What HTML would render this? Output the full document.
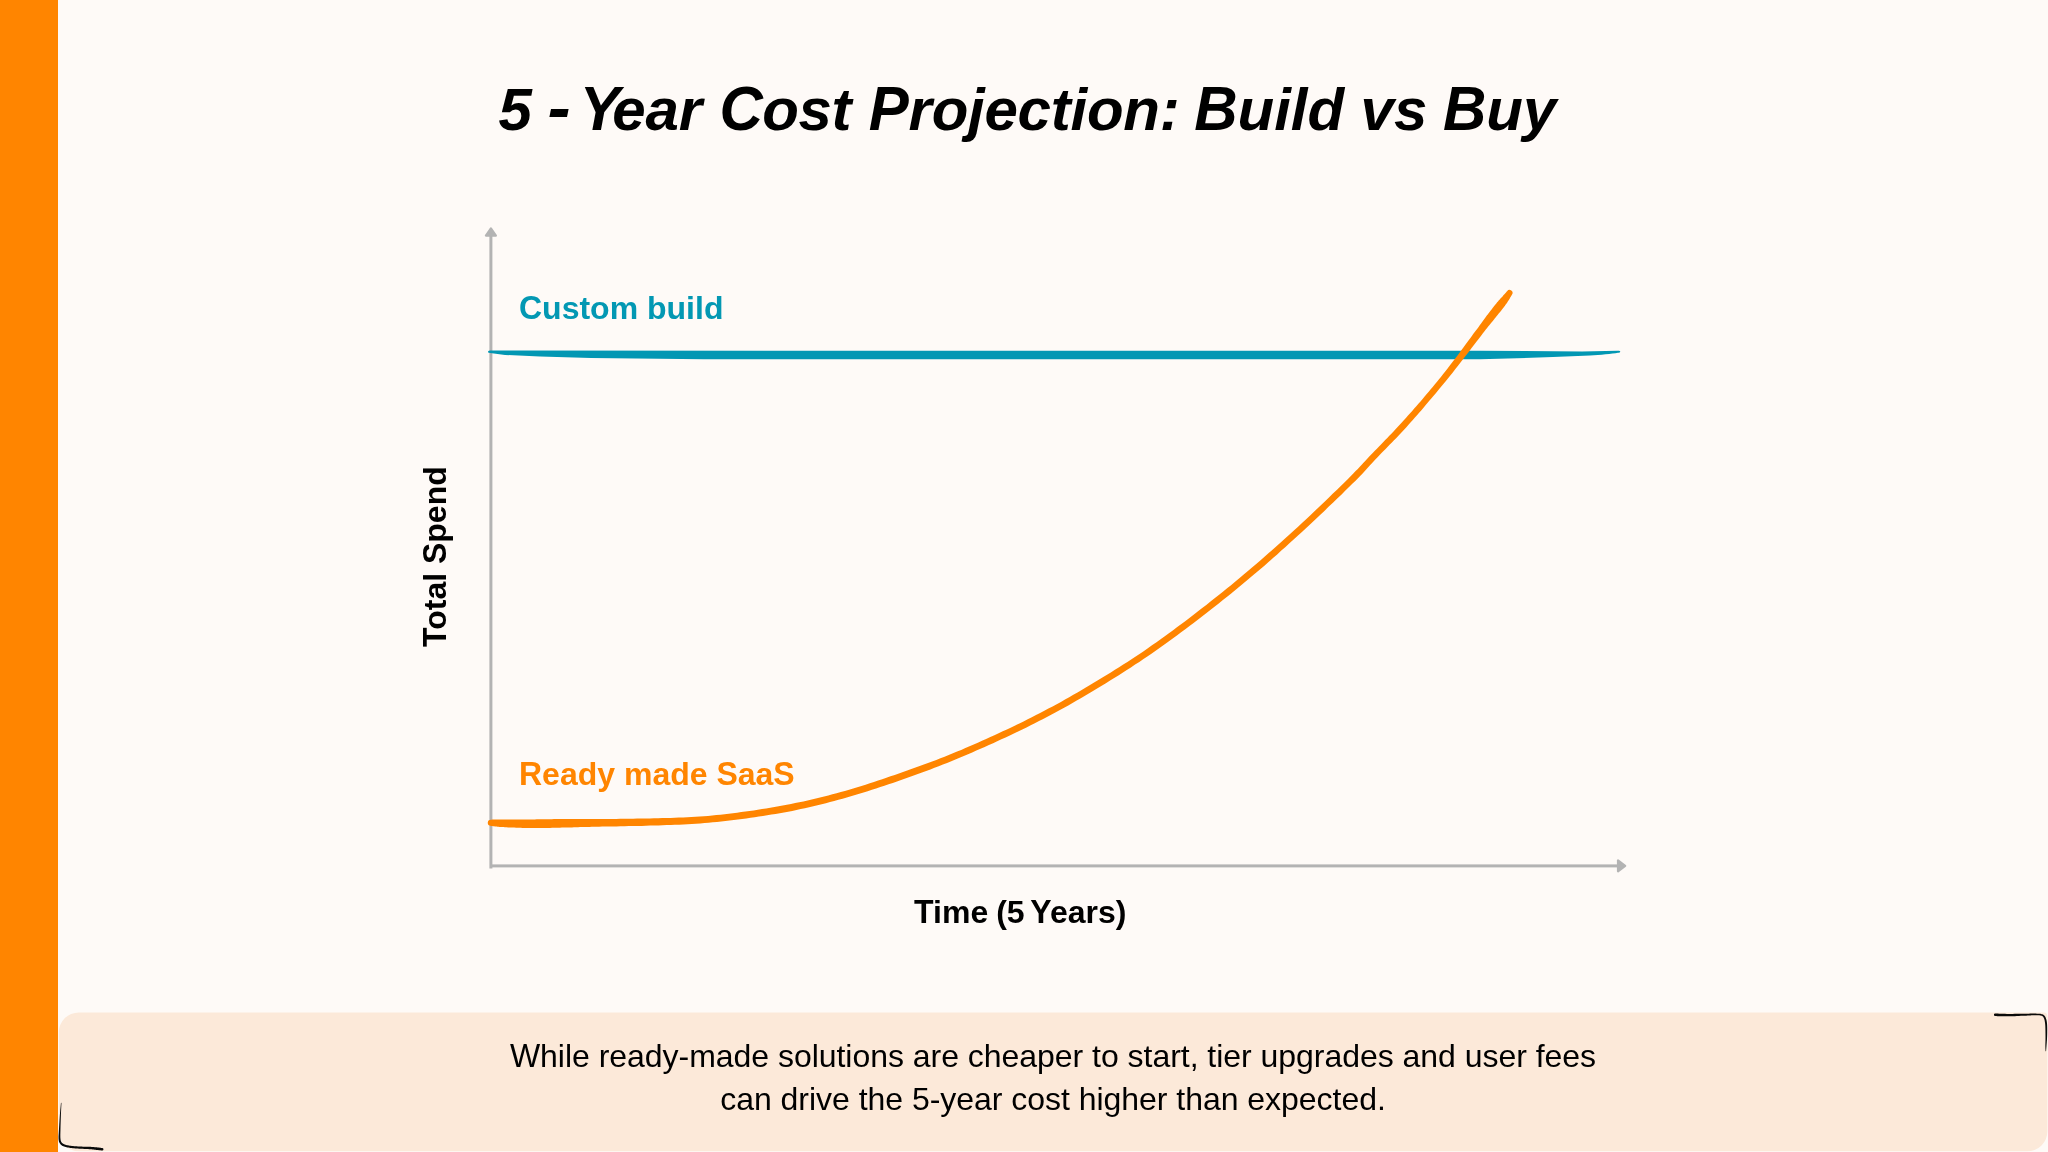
<!DOCTYPE html>
<html>
<head>
<meta charset="utf-8">
<style>
html,body{margin:0;padding:0;}
body{width:2048px;height:1152px;overflow:hidden;position:relative;background:#FEFAF7;font-family:"Liberation Sans",sans-serif;-webkit-font-smoothing:antialiased;}
.bar{position:absolute;left:0;top:0;width:58px;height:1152px;background:#FF8500;}
.t{position:absolute;white-space:nowrap;line-height:1;margin:0;}
.title span{position:absolute;top:79.7px;font-size:60px;line-height:1;font-weight:bold;font-style:italic;color:#000;white-space:nowrap;}
.title span span,.xl span span{position:static;}
.k{display:inline-block;transform:scaleY(1.042);transform-origin:0 0.8467em;}
.body .k{transform-origin:0 32.6px;}
.xl span{position:absolute;top:896.3px;font-size:32px;line-height:1;font-weight:bold;color:#000;white-space:nowrap;}
#cb{left:518.9px;top:292.1px;font-size:32px;font-weight:bold;color:#0398B3;}
#rm{left:519px;top:757.6px;font-size:32px;font-weight:bold;color:#FF8500;}
#yl{left:418.7px;top:647px;font-size:32px;font-weight:bold;color:#000;transform-origin:0 0;transform:rotate(-90deg);}
.body{position:absolute;left:58.4px;letter-spacing:-0.032px;width:1990px;text-align:center;font-size:32px;color:#000;line-height:43px;top:1035px;}
svg{position:absolute;left:0;top:0;}
.t,.title,.xl,.body{will-change:transform;}
</style>
</head>
<body>
<div class="bar"></div>
<div class="title"><span style="left:498.4px">5</span><span style="left:548.9px;transform-origin:50% 34.8px;transform:translateY(-1.45px) scale(1.156,1.1)">-</span><span style="left:579.7px"><span class="k" style="margin-right:-7.6px">Y</span>ear</span><span style="left:719.4px;letter-spacing:-0.4px"><span class="k">C</span>ost</span><span style="left:868.8px;letter-spacing:-0.25px"><span class="k">P</span>rojection:</span><span style="left:1194.2px"><span class="k">B</span>uild</span><span style="left:1360.6px">vs</span><span style="left:1443px"><span class="k">B</span>uy</span></div>
<svg width="2048" height="1152" viewBox="0 0 2048 1152">
  <!-- axes -->
  <g fill="#B3B3B3" stroke="none">
    <rect x="489.4" y="234" width="3" height="634.5"/>
    <rect x="490" y="864.4" width="1128" height="3"/>
    <path d="M490.9,228.4 L495.9,235.6 L485.9,235.6 Z" stroke="#B3B3B3" stroke-width="2.2" stroke-linejoin="round"/>
    <path d="M1625.2,865.8 L1618,860.3 L1618,871.3 Z" stroke="#B3B3B3" stroke-width="2.2" stroke-linejoin="round"/>
  </g>
  <!-- blue line -->
  <path fill="#0297B3" d="M488,352 C488,350.8 489,350.6 492,350.6 L1480,350.8 L1582,351.4 L1618,350.8 C1621,350.8 1621,352.5 1618,352.8 C1612,353.8 1600,355 1590,355.5 L1553,357 L1517,358.2 L1480,359.2 L704,359.2 L591,358.1 L540,356.5 L505,354.9 L492,353.2 C489,353 488,352.6 488,352 Z"/>
  <!-- orange curve -->
  <path fill="#FF8500" d="M490.6,825.8 L490.7,825.8 490.7,825.8 490.7,825.8 490.7,825.9 490.8,825.9 491.0,825.9 491.1,826.0 491.3,826.0 491.6,826.0 491.9,826.1 492.3,826.1 492.9,826.2 493.5,826.3 494.2,826.3 494.9,826.4 495.7,826.5 496.6,826.6 497.5,826.7 498.5,826.8 499.6,826.9 500.8,826.9 502.1,827.0 503.5,827.1 504.9,827.2 506.5,827.3 508.2,827.4 510.1,827.4 512.1,827.5 514.1,827.6 516.2,827.7 518.4,827.7 520.6,827.8 522.7,827.9 524.9,827.9 527.0,828.0 529.0,828.0 530.9,828.0 532.9,828.0 534.8,828.0 536.7,828.0 538.6,828.0 540.5,828.0 542.4,828.0 544.4,828.0 546.3,827.9 548.2,827.9 550.1,827.9 552.1,827.8 554.0,827.8 556.0,827.8 558.0,827.7 559.9,827.7 561.9,827.6 563.9,827.6 565.9,827.5 567.9,827.5 569.9,827.4 571.9,827.4 574.0,827.3 576.1,827.2 578.1,827.2 580.0,827.1 581.9,827.1 583.7,827.0 585.6,827.0 587.5,826.9 589.5,826.9 591.7,826.8 594.0,826.8 596.4,826.7 599.1,826.7 602.1,826.6 605.3,826.5 608.8,826.5 612.5,826.4 616.3,826.4 620.4,826.3 624.6,826.2 628.8,826.1 633.1,826.1 637.4,826.0 641.7,825.9 646.0,825.8 650.1,825.6 654.2,825.5 658.3,825.4 662.5,825.3 666.6,825.1 670.8,825.0 675.0,824.8 679.2,824.7 683.4,824.5 687.6,824.3 691.8,824.0 696.1,823.7 700.3,823.4 704.5,823.1 708.6,822.7 712.8,822.3 717.0,821.9 721.2,821.5 725.4,821.0 729.6,820.5 733.8,820.0 737.9,819.5 742.1,819.0 746.3,818.4 750.5,817.8 754.7,817.2 758.9,816.6 763.0,816.0 767.2,815.3 771.4,814.6 775.6,813.9 779.8,813.2 784.0,812.4 788.2,811.7 792.3,810.9 796.5,810.0 800.7,809.1 804.9,808.2 809.1,807.3 813.3,806.3 817.5,805.3 821.7,804.2 825.9,803.2 830.0,802.1 834.2,801.0 838.4,799.8 842.6,798.7 846.8,797.5 850.9,796.3 855.1,795.0 859.3,793.8 863.5,792.5 867.7,791.2 871.9,789.8 876.1,788.5 880.3,787.1 884.4,785.7 888.6,784.3 892.8,782.9 897.0,781.4 901.1,780.0 905.3,778.5 909.5,777.0 913.7,775.5 917.8,774.0 922.0,772.5 926.2,770.9 930.4,769.4 934.5,767.8 938.7,766.2 942.9,764.5 947.1,762.9 951.3,761.2 955.4,759.5 959.6,757.8 963.8,756.0 968.0,754.3 972.2,752.5 976.3,750.6 980.5,748.8 984.7,747.0 988.9,745.1 993.1,743.2 997.2,741.3 1001.4,739.3 1005.6,737.4 1009.8,735.4 1013.9,733.4 1018.1,731.5 1022.3,729.4 1026.5,727.4 1030.7,725.3 1034.8,723.2 1039.0,721.1 1043.2,719.0 1047.4,716.8 1051.6,714.6 1055.8,712.3 1059.9,710.0 1064.1,707.7 1068.3,705.4 1072.5,703.0 1076.7,700.6 1080.8,698.2 1085.0,695.7 1089.2,693.3 1093.4,690.8 1097.5,688.3 1101.7,685.7 1105.9,683.2 1110.1,680.6 1114.2,678.0 1118.4,675.4 1122.6,672.7 1126.8,670.1 1130.9,667.4 1135.1,664.6 1139.3,661.9 1143.5,659.1 1147.7,656.2 1151.8,653.4 1156.0,650.5 1160.2,647.5 1164.4,644.5 1168.6,641.5 1172.7,638.5 1176.9,635.4 1181.1,632.3 1185.3,629.2 1189.5,626.0 1193.6,622.9 1197.8,619.7 1202.0,616.5 1206.2,613.2 1210.3,610.0 1214.5,606.7 1218.7,603.4 1222.9,600.1 1227.1,596.8 1231.2,593.4 1235.4,590.0 1239.6,586.6 1243.8,583.1 1248.0,579.6 1252.1,576.1 1256.3,572.6 1260.5,569.0 1264.7,565.4 1268.8,561.7 1273.0,558.1 1277.2,554.4 1281.3,550.6 1285.5,546.9 1289.7,543.1 1293.9,539.3 1298.0,535.5 1302.2,531.7 1306.5,527.8 1310.8,523.7 1315.3,519.5 1319.8,515.2 1324.4,510.9 1328.8,506.6 1333.2,502.4 1337.5,498.3 1341.6,494.4 1345.4,490.6 1349.0,487.1 1352.3,483.8 1355.3,480.9 1358.0,478.2 1360.4,475.7 1362.6,473.4 1364.6,471.2 1366.4,469.2 1368.2,467.2 1370.0,465.3 1371.7,463.4 1373.5,461.5 1375.3,459.5 1377.3,457.4 1379.4,455.3 1381.5,453.1 1383.5,451.0 1385.6,448.9 1387.7,446.8 1389.8,444.6 1391.9,442.5 1394.0,440.3 1396.1,438.2 1398.2,436.0 1400.3,433.8 1402.4,431.5 1404.5,429.2 1406.6,426.9 1408.7,424.6 1410.7,422.3 1412.8,419.9 1414.9,417.6 1417.0,415.2 1419.1,412.8 1421.2,410.4 1423.3,408.0 1425.3,405.5 1427.4,403.1 1429.5,400.6 1431.5,398.2 1433.6,395.8 1435.6,393.4 1437.6,391.0 1439.6,388.6 1441.7,386.1 1443.8,383.6 1445.9,381.0 1448.1,378.3 1450.3,375.6 1452.6,372.7 1455.0,369.6 1457.6,366.3 1460.3,362.8 1463.0,359.2 1465.9,355.6 1468.7,351.9 1471.4,348.3 1474.1,344.8 1476.6,341.5 1479.0,338.4 1481.1,335.7 1482.9,333.3 1484.5,331.3 1485.8,329.6 1486.9,328.2 1487.8,327.0 1488.6,326.0 1489.3,325.2 1489.9,324.4 1490.5,323.7 1491.1,323.0 1491.7,322.3 1492.4,321.4 1493.2,320.5 1494.0,319.4 1494.9,318.3 1495.8,317.2 1496.7,316.1 1497.6,314.9 1498.5,313.8 1499.4,312.7 1500.3,311.7 1501.1,310.7 1501.8,309.7 1502.6,308.8 1503.2,308.0 1503.8,307.2 1504.3,306.5 1504.8,305.9 1505.2,305.3 1505.6,304.8 1505.9,304.3 1506.3,303.8 1506.6,303.4 1506.9,302.9 1507.2,302.4 1507.6,301.9 1507.9,301.3 1508.3,300.8 1508.7,300.2 1509.1,299.5 1509.5,298.9 1509.9,298.2 1510.2,297.6 1510.6,297.0 1510.9,296.5 1511.2,295.9 1511.5,295.5 1511.7,295.1 1511.9,294.8 A3.0,3.0 0 0 0 1507.1,291.2 L1506.8,291.5 1506.5,291.8 1506.2,292.2 1505.8,292.7 1505.3,293.2 1504.9,293.7 1504.4,294.2 1503.9,294.8 1503.4,295.3 1503.0,295.8 1502.5,296.4 1502.1,296.9 1501.7,297.3 1501.3,297.7 1500.9,298.1 1500.5,298.5 1500.1,299.0 1499.8,299.4 1499.4,299.8 1498.9,300.3 1498.5,300.8 1498.0,301.4 1497.4,302.1 1496.8,302.8 1496.1,303.7 1495.4,304.6 1494.6,305.5 1493.8,306.5 1493.0,307.6 1492.1,308.7 1491.2,309.9 1490.3,311.0 1489.4,312.2 1488.6,313.3 1487.7,314.4 1486.8,315.5 1486.1,316.5 1485.4,317.4 1484.9,318.2 1484.3,319.0 1483.8,319.7 1483.2,320.5 1482.5,321.4 1481.8,322.5 1480.9,323.7 1479.9,325.1 1478.6,326.9 1477.1,328.9 1475.3,331.3 1473.2,334.1 1471.0,337.2 1468.5,340.6 1465.9,344.1 1463.2,347.8 1460.4,351.5 1457.7,355.2 1455.0,358.8 1452.3,362.3 1449.8,365.6 1447.4,368.7 1445.2,371.5 1443.0,374.3 1440.9,377.0 1438.8,379.5 1436.8,382.1 1434.7,384.5 1432.7,386.9 1430.7,389.3 1428.7,391.7 1426.7,394.1 1424.6,396.5 1422.6,398.9 1420.5,401.4 1418.4,403.8 1416.3,406.2 1414.2,408.6 1412.2,410.9 1410.1,413.3 1408.0,415.6 1405.9,418.0 1403.8,420.3 1401.8,422.6 1399.7,424.8 1397.6,427.1 1395.5,429.3 1393.5,431.5 1391.4,433.7 1389.3,435.8 1387.3,438.0 1385.2,440.1 1383.1,442.3 1381.0,444.4 1379.0,446.5 1376.9,448.7 1374.8,450.8 1372.7,453.0 1370.7,455.1 1368.8,457.1 1367.0,459.1 1365.2,461.0 1363.5,462.8 1361.7,464.8 1359.8,466.8 1357.8,468.9 1355.6,471.1 1353.3,473.6 1350.6,476.2 1347.7,479.2 1344.4,482.4 1340.8,485.9 1337.0,489.7 1332.9,493.6 1328.7,497.7 1324.3,501.9 1319.8,506.2 1315.3,510.5 1310.9,514.7 1306.4,518.9 1302.0,523.0 1297.8,526.9 1293.6,530.7 1289.5,534.5 1285.3,538.3 1281.2,542.0 1277.0,545.8 1272.8,549.5 1268.7,553.1 1264.5,556.8 1260.3,560.4 1256.2,564.0 1252.0,567.6 1247.9,571.1 1243.7,574.6 1239.6,578.1 1235.4,581.5 1231.3,584.9 1227.1,588.3 1222.9,591.7 1218.8,595.0 1214.6,598.3 1210.5,601.6 1206.3,604.9 1202.2,608.1 1198.0,611.3 1193.9,614.5 1189.7,617.7 1185.5,620.9 1181.4,624.0 1177.2,627.1 1173.1,630.2 1168.9,633.3 1164.8,636.3 1160.6,639.3 1156.5,642.2 1152.3,645.1 1148.2,648.0 1144.0,650.9 1139.9,653.7 1135.7,656.4 1131.5,659.2 1127.4,661.9 1123.2,664.6 1119.1,667.2 1114.9,669.8 1110.8,672.4 1106.6,675.0 1102.4,677.5 1098.3,680.1 1094.1,682.6 1090.0,685.1 1085.8,687.6 1081.7,690.0 1077.5,692.4 1073.3,694.8 1069.2,697.2 1065.0,699.6 1060.9,701.9 1056.7,704.2 1052.6,706.4 1048.4,708.6 1044.3,710.8 1040.1,713.0 1036.0,715.1 1031.8,717.2 1027.7,719.3 1023.5,721.4 1019.4,723.4 1015.2,725.4 1011.1,727.4 1006.9,729.4 1002.7,731.3 998.6,733.3 994.4,735.2 990.3,737.1 986.1,739.0 982.0,740.8 977.8,742.7 973.7,744.5 969.5,746.3 965.4,748.1 961.2,749.9 957.1,751.6 952.9,753.3 948.7,755.0 944.6,756.7 940.4,758.3 936.3,759.9 932.1,761.5 928.0,763.0 923.8,764.6 919.7,766.1 915.5,767.6 911.3,769.1 907.2,770.5 903.0,772.0 898.9,773.4 894.7,774.9 890.5,776.3 886.4,777.8 882.2,779.2 878.1,780.6 873.9,782.0 869.8,783.3 865.6,784.7 861.5,786.0 857.3,787.3 853.2,788.5 849.1,789.7 844.9,790.9 840.8,792.1 836.6,793.2 832.4,794.3 828.3,795.4 824.1,796.5 820.0,797.5 815.9,798.5 811.7,799.5 807.6,800.5 803.4,801.4 799.3,802.3 795.1,803.1 791.0,804.0 786.8,804.8 782.7,805.6 778.6,806.3 774.4,807.1 770.3,807.8 766.1,808.5 762.0,809.1 757.8,809.8 753.7,810.4 749.5,811.0 745.4,811.6 741.2,812.1 737.1,812.7 732.9,813.2 728.8,813.7 724.6,814.2 720.5,814.7 716.3,815.1 712.2,815.5 708.0,815.9 703.9,816.2 699.7,816.6 695.6,816.8 691.4,817.1 687.3,817.3 683.1,817.5 678.9,817.6 674.8,817.8 670.6,817.9 666.4,818.0 662.3,818.1 658.1,818.2 654.0,818.3 649.9,818.4 645.8,818.4 641.5,818.5 637.3,818.6 633.0,818.7 628.7,818.7 624.4,818.8 620.3,818.8 616.2,818.9 612.4,818.9 608.7,818.9 605.2,819.0 601.9,819.0 599.0,819.0 596.3,819.0 593.9,819.0 591.6,819.0 589.5,819.0 587.5,819.0 585.5,819.0 583.7,819.0 581.8,819.0 579.9,819.0 578.0,818.9 575.9,819.0 573.9,819.0 571.8,819.0 569.8,819.0 567.7,819.0 565.7,819.0 563.7,819.0 561.8,819.1 559.8,819.1 557.8,819.1 555.9,819.1 553.9,819.1 551.9,819.2 550.0,819.2 548.1,819.2 546.1,819.2 544.2,819.2 542.3,819.3 540.5,819.3 538.6,819.3 536.7,819.3 534.8,819.4 532.9,819.4 531.0,819.4 529.0,819.4 527.0,819.4 525.0,819.4 522.8,819.4 520.7,819.4 518.5,819.4 516.4,819.4 514.3,819.4 512.2,819.4 510.3,819.4 508.4,819.4 506.7,819.4 505.1,819.4 503.6,819.4 502.3,819.4 501.0,819.4 499.9,819.5 498.8,819.5 497.8,819.5 496.8,819.5 496.0,819.5 495.2,819.5 494.4,819.6 493.7,819.6 493.1,819.6 492.6,819.6 492.2,819.6 491.8,819.7 491.6,819.7 491.4,819.7 491.3,819.7 491.3,819.7 491.3,819.8 491.2,819.8 491.2,819.8 491.1,819.8 491.0,819.8 A3.0,3.0 0 0 0 490.6,825.8 Z"/>
</svg>
<div class="t" id="cb"><span class="k">C</span>ustom build</div>
<div class="t" id="rm"><span class="k">R</span>eady made <span class="k">S</span>aa<span class="k">S</span></div>
<div class="xl"><span style="left:914.1px"><span class="k" style="margin-right:-0.59px">T</span>ime</span><span style="left:996.2px">(5</span><span style="left:1030.3px"><span class="k" style="margin-right:-1.77px">Y</span>ears)</span></div>
<div class="t" id="yl"><span class="k" style="margin-right:-2.38px">T</span>otal <span class="k">S</span>pend</div>
<svg width="2048" height="1152" viewBox="0 0 2048 1152">
  <path fill="#FCE9D9" d="M78.8,1012.45 L2043.4,1012.45 Q2047.4,1012.45 2047.4,1016.45 L2047.4,1131.3 A20,20 0 0 1 2027.4,1151.3 L78.8,1151.3 A20,20 0 0 1 58.8,1131.3 L58.8,1032.45 A20,20 0 0 1 78.8,1012.45 Z"/>
  <path fill="#0A0A0A" d="M60.95,1102.98 L60.87,1103.87 60.76,1105.03 60.63,1106.40 60.49,1107.94 60.33,1109.60 60.18,1111.33 60.03,1113.07 59.90,1114.77 59.77,1116.53 59.64,1118.42 59.51,1120.40 59.39,1122.40 59.26,1124.39 59.15,1126.29 59.04,1128.07 58.95,1129.67 58.86,1131.10 58.77,1132.41 58.69,1133.64 58.62,1134.78 58.56,1135.84 58.52,1136.84 58.52,1137.78 58.55,1138.67 58.61,1139.49 58.69,1140.21 58.80,1140.87 58.94,1141.49 59.12,1142.06 59.35,1142.60 59.63,1143.11 59.94,1143.61 60.30,1144.08 60.70,1144.52 61.13,1144.93 61.61,1145.30 62.14,1145.63 62.72,1145.94 63.35,1146.22 64.05,1146.49 64.82,1146.74 65.66,1146.98 66.56,1147.19 67.51,1147.39 68.50,1147.57 69.53,1147.74 70.58,1147.90 71.67,1148.04 72.81,1148.18 74.01,1148.29 75.25,1148.39 76.53,1148.49 77.82,1148.57 79.11,1148.65 80.39,1148.72 81.64,1148.80 82.91,1148.87 84.19,1148.93 85.49,1148.99 86.77,1149.04 88.03,1149.09 89.25,1149.15 90.42,1149.22 91.52,1149.30 92.57,1149.39 93.60,1149.50 94.60,1149.63 95.56,1149.75 96.48,1149.88 97.34,1150.00 98.13,1150.10 98.85,1150.19 99.48,1150.26 100.04,1150.32 100.53,1150.36 100.96,1150.40 101.33,1150.43 101.65,1150.45 101.92,1150.47 102.15,1150.49 A1.20,1.20 0 0 0 102.45,1148.11 L102.22,1148.07 101.96,1148.02 101.64,1147.97 101.27,1147.90 100.84,1147.83 100.34,1147.76 99.78,1147.68 99.15,1147.61 98.44,1147.53 97.66,1147.44 96.79,1147.34 95.86,1147.25 94.87,1147.15 93.84,1147.06 92.78,1146.97 91.68,1146.90 90.54,1146.85 89.35,1146.81 88.11,1146.77 86.84,1146.75 85.56,1146.72 84.27,1146.69 83.00,1146.65 81.76,1146.60 80.50,1146.54 79.22,1146.48 77.94,1146.42 76.66,1146.35 75.41,1146.27 74.19,1146.18 73.03,1146.08 71.93,1145.96 70.87,1145.82 69.85,1145.67 68.85,1145.51 67.91,1145.34 67.02,1145.15 66.19,1144.95 65.43,1144.74 64.75,1144.51 64.16,1144.28 63.64,1144.04 63.20,1143.81 62.82,1143.57 62.50,1143.31 62.20,1143.04 61.93,1142.74 61.66,1142.39 61.41,1142.03 61.20,1141.68 61.03,1141.32 60.88,1140.91 60.75,1140.45 60.64,1139.91 60.54,1139.27 60.45,1138.53 60.38,1137.71 60.34,1136.83 60.33,1135.87 60.33,1134.84 60.35,1133.71 60.38,1132.49 60.42,1131.16 60.45,1129.73 60.48,1128.13 60.53,1126.35 60.58,1124.45 60.64,1122.46 60.70,1120.45 60.77,1118.48 60.84,1116.58 60.90,1114.83 60.97,1113.12 61.04,1111.38 61.12,1109.66 61.20,1107.99 61.28,1106.45 61.35,1105.07 61.41,1103.91 61.45,1103.02 A0.25,0.25 0 0 0 60.95,1102.98 Z"/>
  <path fill="#0A0A0A" d="M1995.16,1016.10 L1996.20,1016.12 1997.55,1016.15 1999.17,1016.19 2000.98,1016.24 2002.92,1016.27 2004.91,1016.30 2006.90,1016.31 2008.80,1016.30 2010.71,1016.26 2012.73,1016.20 2014.80,1016.13 2016.88,1016.04 2018.94,1015.95 2020.93,1015.86 2022.81,1015.78 2024.53,1015.70 2026.11,1015.63 2027.60,1015.54 2028.99,1015.46 2030.30,1015.38 2031.54,1015.31 2032.71,1015.25 2033.82,1015.21 2034.90,1015.20 2035.92,1015.20 2036.89,1015.20 2037.79,1015.22 2038.61,1015.25 2039.38,1015.30 2040.07,1015.39 2040.70,1015.51 2041.27,1015.67 2041.77,1015.85 2042.20,1016.05 2042.54,1016.25 2042.83,1016.48 2043.08,1016.73 2043.31,1017.04 2043.55,1017.43 2043.80,1017.91 2044.04,1018.44 2044.25,1019.02 2044.44,1019.65 2044.62,1020.35 2044.77,1021.13 2044.91,1022.00 2045.04,1022.98 2045.15,1024.08 2045.25,1025.35 2045.33,1026.81 2045.38,1028.40 2045.43,1030.07 2045.45,1031.77 2045.47,1033.44 2045.49,1035.03 2045.50,1036.49 2045.50,1037.84 2045.49,1039.16 2045.47,1040.45 2045.44,1041.68 2045.40,1042.86 2045.38,1043.98 2045.36,1045.02 2045.35,1045.98 2045.36,1046.86 2045.38,1047.67 2045.41,1048.42 2045.44,1049.09 2045.47,1049.68 2045.51,1050.20 2045.53,1050.64 2045.55,1051.00 A0.25,0.25 0 0 0 2046.05,1051.00 L2046.08,1050.65 2046.12,1050.21 2046.16,1049.69 2046.21,1049.10 2046.26,1048.43 2046.32,1047.69 2046.39,1046.89 2046.45,1046.02 2046.52,1045.08 2046.61,1044.04 2046.71,1042.93 2046.80,1041.75 2046.90,1040.51 2046.98,1039.22 2047.05,1037.88 2047.10,1036.51 2047.14,1035.05 2047.17,1033.45 2047.20,1031.77 2047.21,1030.05 2047.21,1028.36 2047.18,1026.74 2047.13,1025.24 2047.05,1023.92 2046.93,1022.76 2046.80,1021.72 2046.64,1020.78 2046.45,1019.92 2046.23,1019.13 2045.99,1018.40 2045.71,1017.73 2045.40,1017.09 2045.08,1016.52 2044.73,1016.01 2044.34,1015.56 2043.91,1015.17 2043.44,1014.85 2042.92,1014.58 2042.36,1014.34 2041.73,1014.13 2041.04,1013.96 2040.30,1013.83 2039.52,1013.74 2038.70,1013.69 2037.83,1013.66 2036.91,1013.64 2035.94,1013.62 2034.90,1013.60 2033.81,1013.58 2032.67,1013.58 2031.48,1013.59 2030.24,1013.61 2028.92,1013.63 2027.53,1013.65 2026.05,1013.68 2024.47,1013.70 2022.75,1013.72 2020.86,1013.76 2018.87,1013.79 2016.82,1013.83 2014.74,1013.86 2012.68,1013.89 2010.68,1013.90 2008.80,1013.90 2006.92,1013.88 2004.95,1013.83 2002.98,1013.78 2001.05,1013.71 1999.25,1013.65 1997.63,1013.59 1996.27,1013.54 1995.24,1013.50 A1.30,1.30 0 0 0 1995.16,1016.10 Z"/>
</svg>
<div class="body"><span class="k">W</span>hile ready-made solutions are cheaper to start, tier upgrades and user fees<br>can drive the 5-year cost higher than expected.</div>
</body>
</html>
